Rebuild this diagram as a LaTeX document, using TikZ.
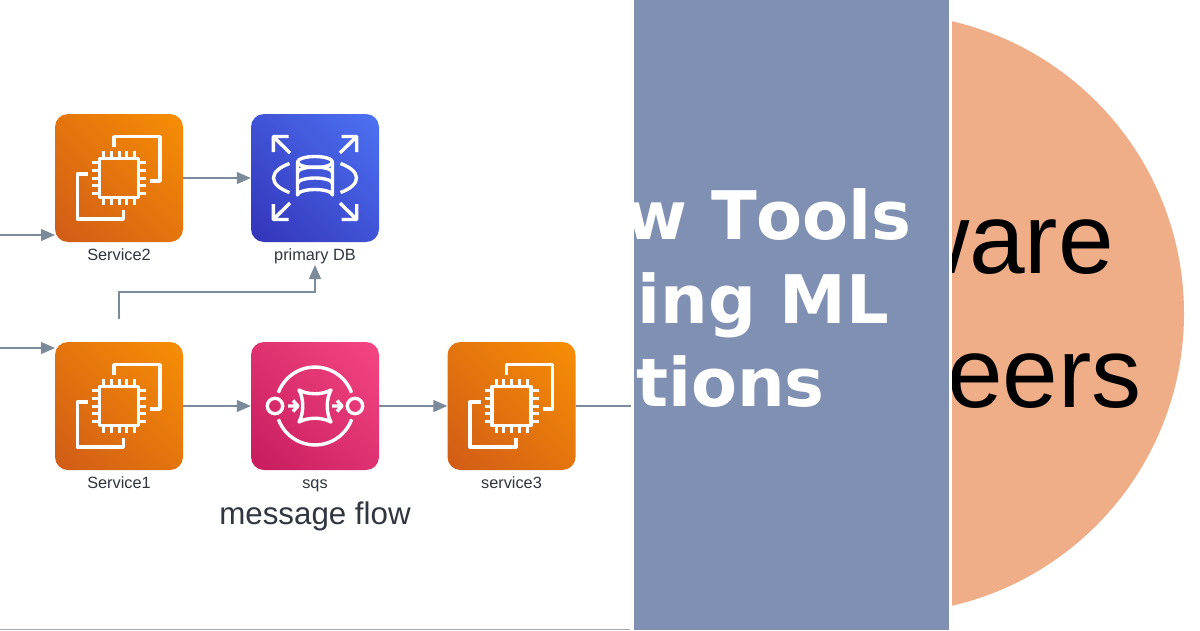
\documentclass[tikz,border=0pt]{standalone}
\usepackage{fontspec}
\setmainfont{Liberation Sans}
\newfontfamily\djb[Kerning=Off]{DejaVu Sans Bold}
\usetikzlibrary{arrows.meta,shadings}
\definecolor{conn}{HTML}{7B8B9A}
\definecolor{lab}{HTML}{2F3640}
\definecolor{panel}{HTML}{8090B2}
\definecolor{peach}{HTML}{EFAE87}
\pgfdeclareverticalshading{ecshade}{100bp}{color(0bp)=(rgb,255:red,200;green,81;blue,27);color(100bp)=(rgb,255:red,255;green,153;blue,0)}
\pgfdeclareverticalshading{dbshade}{100bp}{color(0bp)=(rgb,255:red,46;green,39;blue,173);color(100bp)=(rgb,255:red,82;green,127;blue,255)}
\pgfdeclareverticalshading{sqshade}{100bp}{color(0bp)=(rgb,255:red,188;green,19;blue,86);color(100bp)=(rgb,255:red,255;green,79;blue,139)}
\tikzset{
  x=1pt,y=-1pt,
  tile/.style={rectangle,rounded corners=13pt,minimum size=128pt,inner sep=0pt},
  ec2tile/.style={tile,shading=ecshade,shading angle=-45},
  dbtile/.style={tile,shading=dbshade,shading angle=-45},
  sqstile/.style={tile,shading=sqshade,shading angle=-45},
  ico/.style={draw=white,line width=3.4pt,line cap=butt,line join=round},
  conn/.style={draw=conn,line width=1.2pt,-{Triangle[length=14pt,width=12pt,fill=conn]}},
  plainconn/.style={draw=conn,line width=1.2pt},
  tlab/.style={font=\fontsize{16.3}{18}\selectfont,text=lab,anchor=base},
  head/.style={font=\djb\fontsize{67}{67}\selectfont,text=white,anchor=base east,inner sep=0pt},
  big/.style={font=\fontsize{100}{100}\selectfont,text=black,anchor=base east,inner sep=0pt},
}
\newcommand{\ecicon}[1]{%
  \begin{scope}[shift={(#1)}]
    \draw[ico] (-5,-31) -- (-5,-41.3) -- (41,-41.3) -- (41,3) -- (31,3);
    \draw[ico] (4.3,32) -- (4.3,41) -- (-41.7,41) -- (-41.7,-4) -- (-30.7,-4);
    \draw[ico] (-19.5,-19.5) rectangle (19.5,19.5);
    \foreach \p in {-15.5,-7.75,0,7.75,15.5}{
      \draw[ico,line width=3pt] (\p,-27) -- (\p,-19.5) (\p,27) -- (\p,19.5) (-27,\p) -- (-19.5,\p) (27,\p) -- (19.5,\p);
    }
  \end{scope}}
\newcommand{\dbicon}[1]{%
  \begin{scope}[shift={(#1)}]
    \foreach \sx/\sy in {1/1,-1/1,1/-1,-1/-1}{
      \draw[ico,xscale=\sx,yscale=\sy] (-25,-25) -- (-41.7,-41.5) (-41.7,-26) -- (-41.7,-41.5) -- (-26.5,-41.5);
    }
    \draw[ico] (-17.5,-16) -- (-17.5,17) arc[start angle=180,end angle=360,x radius=17.5,y radius=5.5] -- (17.5,-16);
    \draw[ico] (0,-16) ellipse[x radius=17.5,y radius=5.5];
    \draw[ico] (-17.5,-5.5) arc[start angle=180,end angle=360,x radius=17.5,y radius=5.5];
    \draw[ico] (-17.5,5.5) arc[start angle=180,end angle=360,x radius=17.5,y radius=5.5];
    \draw[ico] (-25.5,-14.5) .. controls (-35,-11) and (-41.5,-6) .. (-41.5,0) .. controls (-41.5,6) and (-35,11) .. (-25.5,14.5);
    \draw[ico] (25.5,-14.5) .. controls (35,-11) and (41.5,-6) .. (41.5,0) .. controls (41.5,6) and (35,11) .. (25.5,14.5);
  \end{scope}}
\newcommand{\sqsicon}[1]{%
  \begin{scope}[shift={(#1)}]
    \draw[ico] (36.6,-13.3) arc[start angle=-20,end angle=-160,radius=39];
    \draw[ico] (-36.6,13.3) arc[start angle=160,end angle=20,radius=39];
    \draw[ico] (-40,0) circle[radius=7.7];
    \draw[ico] (40,0) circle[radius=7.7];
    \draw[ico] (-16,-16) .. controls (-11,-7) and (-11,7) .. (-16,16) .. controls (-7,11) and (7,11) .. (16,16) .. controls (11,7) and (11,-7) .. (16,-16) .. controls (7,-11) and (-7,-11) .. (-16,-16) -- cycle;
    \draw[ico] (-27,0) -- (-17,0) (-22,-5.5) -- (-17,0) -- (-22,5.5);
    \draw[ico] (17,0) -- (27,0) (22,-5.5) -- (27,0) -- (22,5.5);
  \end{scope}}
\begin{document}
\begin{tikzpicture}
\useasboundingbox (0,0) rectangle (1200,630);
\fill[white] (0,0) rectangle (1200,630);
\draw[draw=conn!70,line width=1pt] (0,629.5) -- (630,629.5);
% right side
\begin{scope}
  \clip (952,0) rectangle (1200,630);
  \fill[peach] (884,313.5) circle[radius=300];
  \node[big] (t4) at (1114,273) {ware};
  \node[big] (t5) at (1142,407) {eers};
\end{scope}
\fill[panel] (634,0) rectangle (949,630);
\begin{scope}
  \clip (634,0) rectangle (949,630);
  \node[head] (t1) at (912,239) {w Tools};
  \node[head] (t2) at (889,323) {ling ML};
  \node[head] (t3) at (825,406) {tions};
\end{scope}
% tiles
\node[ec2tile] (s2) at (119,178) {};
\node[dbtile] (db) at (315,178) {};
\node[ec2tile] (s1) at (119,406) {};
\node[sqstile] (sqs) at (315,406) {};
\node[ec2tile] (s3) at (511.5,406) {};
\ecicon{s2.center}
\dbicon{db.center}
\ecicon{s1.center}
\sqsicon{sqs.center}
\ecicon{s3.center}
\node[tlab] (ls2) at (119,260) {Service2};
\node[tlab] (ldb) at (315,260) {primary DB};
\node[tlab] (ls1) at (119,488) {Service1};
\node[tlab] (lsqs) at (315,488) {sqs};
\node[tlab] (ls3) at (511.5,488) {service3};
\node[font=\fontsize{31.3}{33}\selectfont,text=lab,anchor=base] (flow) at (315,524) {message flow};
% connectors
\coordinate (in2) at (0,235);
\coordinate (in1) at (0,348);
\coordinate (out) at (631,406);
\coordinate (el) at (119,319);
\coordinate (elb) at (119,292);
\coordinate (elc) at (315,292);
\coordinate (dbt) at (315,265);
\draw[conn] (in2) -- (55,235);
\draw[conn] (in1) -- (55,348);
\draw[conn] (s2) -- (db);
\draw[conn] (s1) -- (sqs);
\draw[conn] (sqs) -- (s3);
\draw[plainconn] (s3) -- (out);
\draw[conn] (el) -- (elb) -- (elc) -- (dbt);
\end{tikzpicture}
\end{document}
